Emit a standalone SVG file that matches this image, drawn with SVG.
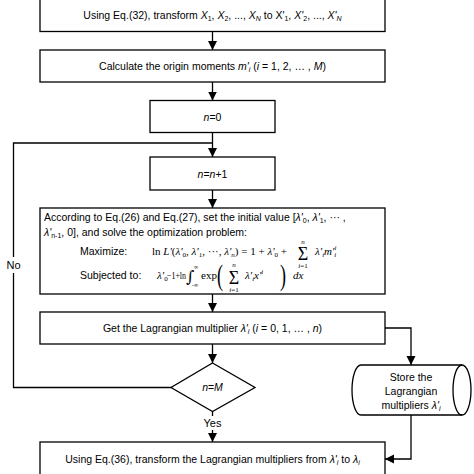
<svg xmlns="http://www.w3.org/2000/svg" width="474" height="474" viewBox="0 0 474 474">
<defs>
<marker id="ah" markerUnits="userSpaceOnUse" markerWidth="10" markerHeight="10" refX="9" refY="4.5" orient="auto">
<path d="M0,0 L9,4.5 L0,9 Z" fill="#000"/>
</marker>
<style>
.box{fill:#fff;stroke:#000;stroke-width:1.3}
.ln{fill:none;stroke:#000;stroke-width:1.3}
.t{font-family:"Liberation Sans",Arial,sans-serif;font-size:10.5px;fill:#000}
.m{font-family:"Liberation Serif","Times New Roman",serif;font-size:11px;fill:#000}
.big{font-family:"DejaVu Serif",serif}
.s{font-size:7px}
.i{font-style:italic}
</style>
</defs>
<rect width="474" height="474" fill="#fff"/>
<g id="connectors">
<line class="ln" x1="212.5" y1="31.5" x2="212.5" y2="50" marker-end="url(#ah)"/>
<line class="ln" x1="212.5" y1="82" x2="212.5" y2="100.5" marker-end="url(#ah)"/>
<line class="ln" x1="212.5" y1="132.5" x2="212.5" y2="157" marker-end="url(#ah)"/>
<line class="ln" x1="212.5" y1="190" x2="212.5" y2="208" marker-end="url(#ah)"/>
<line class="ln" x1="212.5" y1="294" x2="212.5" y2="312" marker-end="url(#ah)"/>
<line class="ln" x1="212.5" y1="344" x2="212.5" y2="363" marker-end="url(#ah)"/>
<line class="ln" x1="212.5" y1="411.5" x2="212.5" y2="442" marker-end="url(#ah)"/>
<path class="ln" d="M171,387.5 H13.5 V143 H212.5"/>
<path class="ln" d="M385,328 H411 V365" marker-end="url(#ah)"/>
<path class="ln" d="M411,415 V459 H385" marker-end="url(#ah)"/>
<rect x="4" y="257" width="19" height="16" fill="#fff"/>
<text class="t" x="13.5" y="269" text-anchor="middle" style="font-size:11px">No</text>
<rect x="200" y="416" width="25" height="14" fill="#fff"/>
<text class="t" x="212.5" y="427" text-anchor="middle" style="font-size:11px">Yes</text>
</g>
<g id="n1">
<rect class="box" x="40" y="-10" width="345" height="41.5"/>
<text class="t" x="212.5" y="19" text-anchor="middle">Using Eq.(32), transform <tspan class="i">X</tspan><tspan class="s" dy="2">1</tspan><tspan dy="-2">, </tspan><tspan class="i">X</tspan><tspan class="s" dy="2">2</tspan><tspan dy="-2">, ..., </tspan><tspan class="i">X</tspan><tspan class="s i" dy="2">N</tspan><tspan dy="-2">  to X'</tspan><tspan class="s" dy="2">1</tspan><tspan dy="-2">, </tspan><tspan class="i">X'</tspan><tspan class="s" dy="2">2</tspan><tspan dy="-2">, ..., </tspan><tspan class="i">X'</tspan><tspan class="s i" dy="2">N</tspan></text>
</g>
<g id="n2">
<rect class="box" x="40" y="50" width="345" height="32"/>
<text class="t" x="212.5" y="69.5" text-anchor="middle">Calculate the origin moments <tspan class="i">m'</tspan><tspan class="s i" dy="2">i</tspan><tspan dy="-2">  (</tspan><tspan class="i">i</tspan> = 1, 2, … , <tspan class="i">M</tspan>)</text>
</g>
<g id="n3">
<rect class="box" x="150" y="100.5" width="125" height="32"/>
<text class="t" x="212.5" y="120.5" text-anchor="middle"><tspan class="i">n</tspan>=0</text>
</g>
<g id="n4">
<rect class="box" x="150" y="157" width="125" height="33"/>
<text class="t" x="212.5" y="177.5" text-anchor="middle"><tspan class="i">n</tspan>=<tspan class="i">n</tspan>+1</text>
</g>
<g id="n5">
<rect class="box" x="40" y="208" width="345" height="86"/>
<text class="t" x="44" y="221">According to Eq.(26) and Eq.(27), set the initial value [<tspan class="i">λ'</tspan><tspan class="s" dy="2">0</tspan><tspan dy="-2">, </tspan><tspan class="i">λ'</tspan><tspan class="s" dy="2">1</tspan><tspan dy="-2">, ··· ,</tspan></text>
<text class="t" x="44" y="236"><tspan class="i">λ'</tspan><tspan class="s" dy="2">n-1</tspan><tspan dy="-2">, 0], and solve the optimization problem:</tspan></text>
<text class="t" x="80" y="255">Maximize:</text>
<text class="m" x="152" y="255">ln <tspan class="i">L'</tspan>(<tspan class="i">λ'</tspan><tspan class="s" dy="2">0</tspan><tspan dy="-2">, </tspan><tspan class="i">λ'</tspan><tspan class="s" dy="2">1</tspan><tspan dy="-2">, ···, </tspan><tspan class="i">λ'</tspan><tspan class="s i" dy="2">n</tspan><tspan dy="-2">) =  1 + </tspan><tspan class="i">λ'</tspan><tspan class="s" dy="2">0</tspan><tspan dy="-2"> + </tspan></text>
<text class="m" x="303" y="260" text-anchor="middle" style="font-size:18px">Σ</text>
<text class="m i" x="303" y="244" text-anchor="middle" style="font-size:7px">n</text>
<text class="m" x="303" y="268" text-anchor="middle" style="font-size:7px"><tspan class="i">i</tspan>=1</text>
<text class="m" x="315" y="255"><tspan class="i">λ'</tspan><tspan class="s i" dy="2">i</tspan><tspan class="i" dy="-2">m'</tspan><tspan class="s i" dy="-5">i</tspan><tspan class="s i" dx="-2" dy="7">i</tspan></text>
<text class="t" x="80" y="279">Subjected to:</text>
<text class="m" x="157" y="279"><tspan class="i">λ'</tspan><tspan class="s" dy="2">0</tspan></text>
<text class="m" x="167" y="279" textLength="19" lengthAdjust="spacingAndGlyphs" style="font-size:10px">−1+ln</text>
<text class="m big" x="186" y="282" style="font-size:16px">∫</text>
<text class="m" x="194" y="269" style="font-size:6px">∞</text>
<text class="m" x="192" y="287" style="font-size:6px">-∞</text>
<text class="m" x="201" y="279">exp</text>
<text class="m" x="217" y="285" style="font-size:30px" transform="translate(217,0) scale(0.6,1) translate(-217,0)">(</text>
<text class="m" x="234" y="284" text-anchor="middle" style="font-size:18px">Σ</text>
<text class="m i" x="234" y="267" text-anchor="middle" style="font-size:7px">n</text>
<text class="m" x="234" y="292" text-anchor="middle" style="font-size:7px"><tspan class="i">i</tspan>=1</text>
<text class="m" x="245" y="279"><tspan class="i">λ'</tspan><tspan class="s i" dy="2">i</tspan><tspan class="i" dy="-2">x'</tspan><tspan class="s i" dy="-5">i</tspan></text>
<text class="m" x="280" y="285" style="font-size:30px" transform="translate(280,0) scale(0.6,1) translate(-280,0)">)</text>
<text class="m i" x="293" y="279">dx</text>
</g>
<g id="n6">
<rect class="box" x="40" y="312" width="345" height="32"/>
<text class="t" x="212.5" y="331.5" text-anchor="middle">Get the Lagrangian multiplier <tspan class="i">λ'</tspan><tspan class="s i" dy="2">i</tspan><tspan dy="-2"> (</tspan><tspan class="i">i</tspan> = 0, 1, … , <tspan class="i">n</tspan>)</text>
</g>
<g id="n7">
<path class="box" d="M212.5,363 L255,387.5 L212.5,411.5 L171,387.5 Z"/>
<text class="t" x="212.5" y="391" text-anchor="middle"><tspan class="i">n</tspan>=<tspan class="i">M</tspan></text>
</g>
<g id="n8">
<path class="box" d="M361,365 H462 A9,25 0 0 1 462,415 H361 A9,25 0 0 1 361,365 Z"/>
<path class="ln" d="M462,365 A9,25 0 0 0 462,415"/>
<text class="t" x="411" y="381" text-anchor="middle">Store the</text>
<text class="t" x="411" y="395" text-anchor="middle">Lagrangian</text>
<text class="t" x="411" y="409" text-anchor="middle">multipliers <tspan class="i">λ'</tspan><tspan class="s i" dy="2">i</tspan></text>
</g>
<g id="n9">
<rect class="box" x="40" y="442" width="345" height="40"/>
<text class="t" x="212.5" y="463" text-anchor="middle">Using Eq.(36), transform the Lagrangian multipliers from <tspan class="i">λ'</tspan><tspan class="s i" dy="2">i</tspan><tspan dy="-2"> to </tspan><tspan class="i">λ</tspan><tspan class="s i" dy="2">i</tspan></text>
</g>
</svg>
